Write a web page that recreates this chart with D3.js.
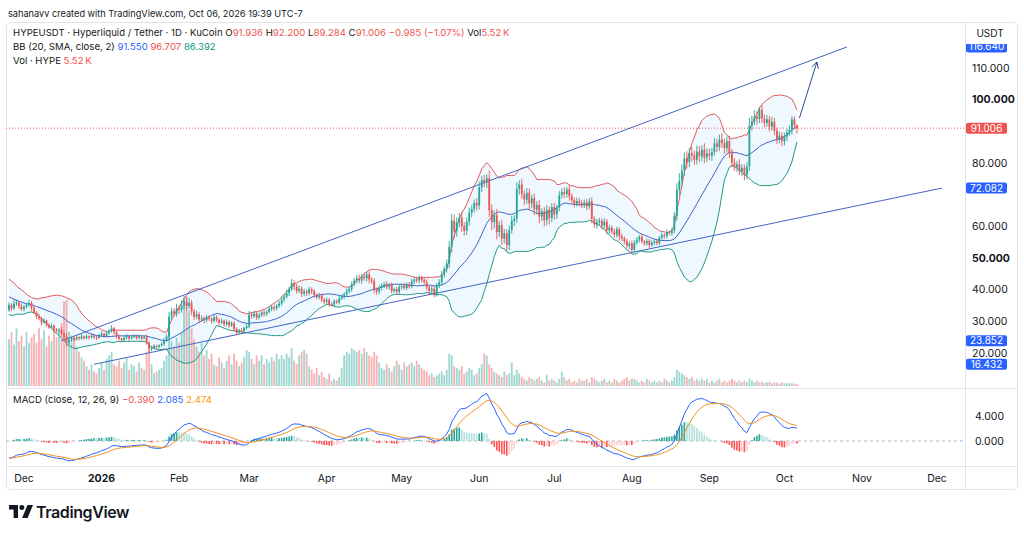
<!DOCTYPE html>
<html>
<head>
<meta charset="utf-8">
<script src="https://cdn.jsdelivr.net/npm/d3@7"></script>
<style>
  body { margin: 0; background: #fff; }
  svg text { font-family: "Inter", "Roboto", "Noto Sans", sans-serif; }
</style>
</head>
<body>
<svg id="chart" width="1024" height="534"></svg>
<script>
// ---- data (daily HYPE/USDT, first candle 2025-11-25) ----
var firstDay = "2025-11-25";

// closes before the visible window, only used to seed BB and MACD
var warmupCloses = [51.5, 50.2, 51.8, 50.6, 49.3, 50.1, 48.7, 49.5, 48.2, 47.1,
  48.0, 46.8, 47.6, 46.2, 45.5, 46.4, 45.1, 44.3, 45.2, 44.0,
  44.8, 43.6, 44.4, 43.2, 43.9, 43.1, 42.4, 41.6, 42.2, 40.9,
  40.3, 39.5, 40.1, 38.8, 38.2, 37.4, 37.9, 36.6, 35.9, 35.2,
  35.8, 34.5, 33.9, 34.4, 33.6];

var closes = [35.2, 34.1, 35.6, 36.0, 34.8, 33.9, 34.5, 35.3, 35.8, 34.2,
  32.8, 31.5, 30.9, 29.6, 30.2, 28.9, 28.1, 28.6, 27.4, 26.9,
  27.3, 26.2, 25.1, 23.4, 24.0, 24.8, 24.3, 25.0, 24.6, 25.2,
  24.7, 25.3, 24.9, 25.5, 25.0, 24.8, 25.6, 26.1, 25.4, 26.3,
  26.9, 27.8, 26.6, 25.2, 24.5, 24.1, 24.8, 25.3, 24.6, 25.1,
  25.4, 24.8, 25.2, 24.6, 25.0, 23.3, 21.2, 21.6, 22.3, 21.9,
  22.4, 22.8, 24.0, 25.2, 31.5, 33.2, 32.4, 34.1, 33.6, 35.0,
  36.2, 34.8, 35.9, 33.1, 31.4, 32.2, 30.6, 31.0, 30.3, 31.2,
  30.8, 30.1, 31.3, 30.5, 29.6, 30.2, 29.1, 29.8, 28.7, 29.4,
  27.6, 26.5, 27.2, 26.8, 27.9, 28.4, 32.1, 31.6, 32.5, 31.2,
  31.9, 32.8, 32.3, 33.0, 33.9, 34.5, 34.1, 34.8, 35.6, 36.9,
  37.8, 38.9, 40.2, 42.1, 41.0, 39.6, 40.3, 38.7, 39.4, 38.9,
  40.1, 39.5, 38.4, 37.6, 38.1, 36.9, 36.2, 36.8, 35.5, 35.3,
  36.4, 36.0, 37.2, 37.8, 38.6, 39.5, 40.2, 41.6, 42.8, 43.5,
  42.9, 44.1, 43.6, 44.8, 43.2, 42.7, 40.1, 39.4, 40.6, 41.3,
  41.8, 40.9, 41.5, 39.6, 40.2, 39.3, 40.8, 41.2, 40.5, 41.6,
  41.0, 42.6, 43.2, 42.9, 43.8, 43.1, 42.4, 40.8, 39.7, 40.3,
  38.6, 41.2, 42.3, 44.8, 46.5, 48.2, 53.5, 61.8, 58.4, 61.2,
  62.7, 60.1, 58.6, 61.4, 64.3, 65.5, 67.4, 66.6, 72.3, 74.6,
  73.8, 75.2, 65.1, 61.3, 63.5, 58.2, 60.4, 56.1, 57.8, 54.0,
  58.9, 61.7, 62.4, 71.8, 73.2, 70.1, 68.4, 70.6, 67.2, 68.9,
  65.3, 66.8, 63.1, 64.7, 61.9, 65.2, 62.6, 66.1, 63.8, 65.9,
  69.8, 70.9, 70.2, 71.6, 69.5, 68.3, 67.1, 68.0, 67.4, 66.8,
  67.5, 66.3, 67.9, 62.4, 60.6, 61.3, 61.8, 60.2, 61.5, 58.7,
  59.6, 58.3, 57.4, 59.1, 56.8, 56.1, 55.3, 53.9, 54.6, 52.6,
  54.9, 55.8, 56.7, 55.2, 54.6, 55.4, 54.1, 54.8, 55.3, 54.7,
  56.4, 57.2, 56.9, 58.1, 57.8, 58.7, 63.2, 71.5, 74.3, 77.6,
  81.5, 80.2, 83.1, 82.4, 81.0, 83.6, 82.1, 84.2, 81.7, 83.0,
  82.3, 83.5, 86.2, 85.1, 87.4, 86.3, 84.7, 86.9, 83.2, 80.1,
  78.8, 79.6, 77.4, 78.5, 76.2, 78.9, 91.8, 93.2, 94.6, 93.9,
  96.8, 94.1, 92.7, 93.8, 91.5, 93.0, 90.2, 87.4, 88.6, 86.9,
  88.3, 89.7, 90.5, 93.8, 91.991, 91.006];

// wick length above the body / below the body
var wickHi = [0.8,0.5,1.1,0.6,0.4,0.9,0.7,0.5,1.0,0.6,
  0.7,0.4,0.9,0.5,0.8,0.3,0.6,0.7,0.4,0.5,
  0.6,0.9,0.5,1.2,0.4,0.7,0.5,0.6,0.3,0.8,
  0.4,0.6,0.3,0.5,0.4,0.6,0.5,0.8,0.3,0.6,
  0.7,1.0,0.5,0.4,0.6,0.3,0.5,0.7,0.4,0.5,
  0.5,0.4,0.6,0.3,0.5,0.8,0.4,0.6,0.5,0.3,
  0.4,0.6,0.8,0.7,1.5,1.1,0.9,1.4,1.0,1.6,
  1.8,1.2,1.5,0.9,0.8,1.1,0.7,0.9,0.6,0.8,
  0.7,0.5,0.9,0.6,0.5,0.7,0.4,0.8,0.5,0.6,
  0.6,0.5,0.4,0.7,0.5,0.8,1.2,0.9,0.7,0.6,
  0.8,0.6,0.7,0.5,0.9,0.6,0.8,0.7,0.9,1.0,
  0.9,1.1,0.8,1.3,0.9,0.7,1.0,0.8,0.9,0.7,
  0.8,0.6,0.7,0.5,0.9,0.6,0.5,0.7,0.6,0.5,
  0.6,0.5,0.8,0.7,0.6,0.9,0.7,1.0,0.9,1.1,
  1.2,0.9,1.3,0.8,1.0,0.7,0.9,0.6,0.8,0.7,
  0.7,0.9,0.6,0.8,0.5,0.7,0.8,0.6,0.9,0.7,
  0.8,0.9,0.7,1.0,0.8,0.6,0.7,0.9,0.6,0.8,
  0.7,0.9,1.0,1.1,0.9,1.3,1.8,2.2,1.9,1.6,
  1.5,1.8,1.2,1.4,1.6,1.3,1.1,1.5,1.9,1.4,
  1.6,1.2,2.4,1.8,1.5,2.0,1.3,1.7,1.4,1.2,
  1.3,1.6,1.1,2.1,1.4,1.8,1.2,1.5,1.3,1.1,
  1.4,1.2,1.6,1.0,1.3,1.5,1.1,1.2,1.4,1.0,
  1.3,1.1,1.4,0.9,1.2,1.0,0.8,1.1,0.9,1.0,
  0.9,1.1,1.0,1.3,0.8,1.0,0.9,0.7,1.1,0.8,
  0.9,0.7,1.0,0.8,0.6,0.9,0.7,0.8,0.6,0.9,
  0.7,0.8,0.6,0.9,0.5,0.7,0.6,0.8,0.5,0.7,
  0.6,0.8,0.7,0.9,0.6,0.8,1.4,2.1,2.5,2.0,
  1.8,2.2,1.6,2.0,1.5,1.9,1.7,1.4,2.0,1.6,
  1.5,1.3,1.8,1.4,1.6,1.9,1.3,1.5,1.7,1.2,
  1.4,1.1,1.6,1.2,1.0,1.3,2.4,1.8,2.1,1.6,
  1.0,1.5,1.2,1.4,1.1,1.6,1.2,1.0,1.3,1.1,
  1.2,1.0,1.4,1.0,0.9,0.21];

var wickLo = [0.6,0.9,0.5,0.7,1.0,0.6,0.8,0.4,0.7,0.9,
  0.5,0.8,0.6,0.9,0.4,0.7,0.5,0.6,0.8,0.5,
  0.7,0.6,1.0,1.3,0.5,0.6,0.7,0.4,0.6,0.5,
  0.5,0.4,0.6,0.3,0.5,0.7,0.4,0.5,0.6,0.4,
  0.6,0.5,0.8,0.7,0.5,0.6,0.4,0.5,0.7,0.4,
  0.4,0.6,0.5,0.7,0.4,0.6,0.9,0.7,0.5,0.6,
  0.5,0.4,0.6,0.5,0.9,1.2,0.8,1.0,1.3,0.9,
  1.1,1.4,0.9,1.2,1.0,0.8,1.1,0.7,0.9,0.6,
  0.6,0.8,0.5,0.7,0.9,0.5,0.8,0.6,0.7,0.5,
  0.7,0.9,0.5,0.6,0.4,0.5,0.6,0.8,0.5,0.7,
  0.6,0.5,0.8,0.6,0.5,0.7,0.9,0.6,0.5,0.7,
  0.8,0.6,0.9,0.7,1.1,0.9,0.7,1.0,0.8,0.9,
  0.7,0.9,0.8,0.6,0.7,0.9,0.8,0.6,0.9,0.7,
  0.8,0.6,0.7,0.5,0.8,0.6,0.7,0.9,0.6,0.8,
  0.9,1.0,0.8,1.1,1.2,0.9,1.3,1.0,0.8,0.9,
  0.8,0.7,0.9,0.8,0.6,0.9,0.7,0.8,0.6,0.7,
  0.7,0.6,0.8,0.7,0.9,0.8,0.7,1.0,1.2,0.9,
  1.0,0.8,0.7,0.9,1.0,1.1,1.4,1.8,2.1,1.7,
  1.6,1.9,1.5,1.3,1.2,1.4,1.1,1.6,1.3,1.5,
  1.4,1.7,2.2,2.5,1.9,2.3,1.6,2.0,1.5,1.8,
  1.5,1.2,1.6,1.3,1.8,1.4,1.7,1.3,1.9,1.4,
  1.8,1.5,2.2,1.4,1.9,1.6,2.0,1.3,1.7,1.5,
  1.2,1.0,1.3,1.1,1.4,1.0,1.2,0.9,1.1,1.0,
  1.0,1.2,0.9,1.4,1.1,1.3,1.0,1.2,0.9,1.3,
  1.0,0.8,1.1,0.9,1.2,0.8,1.0,0.9,1.1,1.0,
  0.8,0.7,0.9,0.6,0.8,0.7,0.9,0.6,0.8,0.7,
  0.7,0.6,0.8,0.7,0.6,0.8,0.9,1.5,1.8,1.6,
  1.7,2.0,1.5,1.9,1.6,1.4,1.8,1.5,1.7,1.3,
  1.4,1.6,1.2,1.7,1.3,1.5,1.8,1.4,1.6,1.5,
  1.3,1.6,1.2,1.5,1.7,1.4,1.5,1.6,1.2,1.8,
  1.3,1.5,1.4,1.2,1.6,1.3,1.5,1.4,1.2,1.6,
  1.3,1.4,1.1,1.5,1.2,1.72];

// volume in thousands of HYPE
var volumes = [130,150,115,160,125,140,110,150,120,135,
  145,120,160,130,155,110,140,125,165,135,
  150,175,235,240,150,120,135,110,95,80,
  70,55,45,60,40,35,50,65,45,75,
  85,95,60,55,70,50,65,80,45,60,
  55,40,65,50,45,95,100,60,35,40,
  45,50,70,85,140,125,110,135,120,150,
  240,250,210,160,130,110,95,120,85,100,
  75,90,60,55,80,65,50,70,85,60,
  90,70,55,65,80,100,95,75,60,85,
  70,85,60,75,65,80,70,90,75,85,
  75,90,80,105,70,60,85,95,100,90,
  55,45,35,50,30,40,25,20,35,15,
  20,15,25,50,85,95,90,105,100,95,
  100,90,105,95,85,80,95,85,65,50,
  45,60,50,40,55,70,60,45,65,55,
  60,65,55,70,60,50,45,40,30,35,
  25,30,35,40,30,45,90,85,55,50,
  45,55,35,40,50,45,30,35,50,60,
  90,85,60,50,40,35,30,25,40,30,
  35,65,30,45,35,25,20,15,25,20,
  15,20,25,15,10,30,15,20,15,10,
  20,40,25,15,20,10,15,10,20,15,
  15,20,10,25,20,15,10,15,20,10,
  15,10,20,15,10,15,20,25,15,20,
  20,15,10,15,10,20,15,10,15,10,
  15,10,20,15,10,15,25,45,40,35,
  30,25,20,25,15,20,15,20,15,20,
  10,15,10,15,20,10,15,10,15,20,
  15,10,15,10,15,10,20,15,10,15,
  10,12,8,10,12,8,10,9,7,10,
  8,7,9,8,6,5.52];

var monthTicks = ["2025-12-01","2026-01-01","2026-02-01","2026-03-01","2026-04-01","2026-05-01",
  "2026-06-01","2026-07-01","2026-08-01","2026-09-01","2026-10-01","2026-11-01","2026-12-01"];
var monthNames = ["Dec","2026","Feb","Mar","Apr","May","Jun","Jul","Aug","Sep","Oct","Nov","Dec"];
var priceTicks = [110, 100, 90, 80, 70, 60, 50, 40, 30, 20];
var macdTicks = [4, 0];

// drawings: [date, price]
var upperChannel = [["2025-12-16", 23.852], ["2026-10-26", 116.640]];
var lowerChannel = [["2025-12-29", 16.432], ["2026-12-03", 72.082]];
var arrowPath = [["2026-10-07", 94.2], ["2026-10-14", 111.9]];
var lastPrice = 91.006;
var tagValues = [116.640, 72.082, 23.852, 16.432];

// ---- setup ----
var svg = d3.select("#chart");
var UP = "#26a69a", DOWN = "#ef5350";
var parse = d3.utcParse("%Y-%m-%d");
var DAY = 864e5;
var t0 = parse(firstDay).getTime();

var candles = closes.map(function(c, i) {
  var o = i == 0 ? warmupCloses[warmupCloses.length - 1] : closes[i - 1];
  return {
    date: new Date(t0 + i * DAY),
    o: o, c: c,
    h: Math.max(o, c) + wickHi[i],
    l: Math.min(o, c) - wickLo[i],
    v: volumes[i]
  };
});

// indicators on warmup + visible closes
var all = warmupCloses.concat(closes);
var nw = warmupCloses.length;
function ema(arr, n) {
  var k = 2 / (n + 1), out = [], prev = arr[0];
  arr.forEach(function(v, i) { prev = i == 0 ? v : v * k + prev * (1 - k); out.push(prev); });
  return out;
}
var e12 = ema(all, 12), e26 = ema(all, 26);
var macd = all.map(function(v, i) { return e12[i] - e26[i]; });
var sig = ema(macd, 9);
candles.forEach(function(d, i) {
  var j = i + nw;
  var win = all.slice(j - 19, j + 1);
  var m = d3.mean(win);
  var sd = Math.sqrt(d3.mean(win, function(v) { return (v - m) * (v - m); }));
  d.basis = m; d.upper = m + 2 * sd; d.lower = m - 2 * sd;
  d.macd = macd[j]; d.sig = sig[j]; d.hist = macd[j] - sig[j];
  d.histPrev = macd[j - 1] - sig[j - 1];
});

var x = d3.scaleUtc().domain([parse("2025-12-01"), parse("2026-12-01")]).range([24, 937]);
var y = d3.scaleLinear().domain([20, 110]).range([353, 68]);
var yv = d3.scaleLinear().domain([0, 250]).range([386, 296]);
var ym = d3.scaleLinear().domain([0, 4]).range([441, 416]);

var defs = svg.append("defs");
defs.append("clipPath").attr("id", "clip-price").append("rect")
  .attr("x", 6).attr("y", 23).attr("width", 959).attr("height", 364);
defs.append("clipPath").attr("id", "clip-macd").append("rect")
  .attr("x", 6).attr("y", 389).attr("width", 959).attr("height", 77);
defs.append("clipPath").attr("id", "clip-axis").append("rect")
  .attr("x", 965).attr("y", 44).attr("width", 52).attr("height", 343);

// frame
svg.append("rect").attr("x", 6.5).attr("y", 22.5).attr("width", 1011).attr("height", 467)
  .attr("rx", 4).style("fill", "none").style("stroke", "#e0e3eb");
[388.5, 466.5].forEach(function(yy) {
  svg.append("line").attr("x1", 6).attr("x2", 1017).attr("y1", yy).attr("y2", yy).style("stroke", "#e0e3eb");
});
svg.append("line").attr("x1", 965.5).attr("x2", 965.5).attr("y1", 22).attr("y2", 490).style("stroke", "#e0e3eb");

// ---- price pane ----
var pane = svg.append("g").attr("clip-path", "url(#clip-price)");

pane.append("path").datum(candles)
  .attr("d", d3.area().x(function(d) { return x(d.date); })
    .y0(function(d) { return y(d.lower); }).y1(function(d) { return y(d.upper); }))
  .style("fill", "rgba(33,150,243,0.07)");

pane.selectAll(".vol").data(candles).enter().append("rect")
  .attr("x", function(d) { return x(d.date) - 0.9; })
  .attr("width", 1.8)
  .attr("y", function(d) { return yv(d.v); })
  .attr("height", function(d) { return yv(0) - yv(d.v); })
  .style("fill", function(d) { return d.c >= d.o ? "rgba(38,166,154,0.45)" : "rgba(239,83,80,0.45)"; });

var bandLine = function(key) {
  return d3.line().x(function(d) { return x(d.date); }).y(function(d) { return y(d[key]); });
};
pane.append("path").datum(candles).attr("d", bandLine("upper")).style("fill", "none").style("stroke", "#e0585c").style("stroke-width", 1);
pane.append("path").datum(candles).attr("d", bandLine("basis")).style("fill", "none").style("stroke", "#3c64c8").style("stroke-width", 1);
pane.append("path").datum(candles).attr("d", bandLine("lower")).style("fill", "none").style("stroke", "#1f9a7f").style("stroke-width", 1);

pane.append("line").attr("x1", 6).attr("x2", 965)
  .attr("y1", y(lastPrice)).attr("y2", y(lastPrice))
  .style("stroke", "#ef5350").style("stroke-dasharray", "1,2").style("stroke-width", 1);

[upperChannel, lowerChannel].forEach(function(ln) {
  pane.append("line")
    .attr("x1", x(parse(ln[0][0]))).attr("y1", y(ln[0][1]))
    .attr("x2", x(parse(ln[1][0]))).attr("y2", y(ln[1][1]))
    .style("stroke", "#4466c4").style("stroke-width", 1);
});

var cg = pane.selectAll(".candle").data(candles).enter().append("g");
cg.append("line")
  .attr("x1", function(d) { return x(d.date); }).attr("x2", function(d) { return x(d.date); })
  .attr("y1", function(d) { return y(d.h); }).attr("y2", function(d) { return y(d.l); })
  .style("stroke", function(d) { return d.c >= d.o ? UP : DOWN; }).style("stroke-width", 0.9);
cg.append("rect")
  .attr("x", function(d) { return x(d.date) - 0.9; })
  .attr("width", 1.8)
  .attr("y", function(d) { return y(Math.max(d.o, d.c)); })
  .attr("height", function(d) { return Math.max(0.8, Math.abs(y(d.o) - y(d.c))); })
  .style("fill", function(d) { return d.c >= d.o ? UP : DOWN; });

// arrow drawing
var ax1 = x(parse(arrowPath[0][0])), ay1 = y(arrowPath[0][1]);
var ax2 = x(parse(arrowPath[1][0])), ay2 = y(arrowPath[1][1]);
pane.append("line").attr("x1", ax1).attr("y1", ay1).attr("x2", ax2).attr("y2", ay2)
  .style("stroke", "#2c4a93").style("stroke-width", 1);
var ang = Math.atan2(ay2 - ay1, ax2 - ax1);
pane.append("path")
  .attr("d", "M" + (ax2 - 7 * Math.cos(ang - 0.5)) + "," + (ay2 - 7 * Math.sin(ang - 0.5)) +
    "L" + ax2 + "," + ay2 +
    "L" + (ax2 - 7 * Math.cos(ang + 0.5)) + "," + (ay2 - 7 * Math.sin(ang + 0.5)))
  .style("fill", "none").style("stroke", "#2c4a93").style("stroke-width", 1);

// ---- price axis ----
svg.append("text").attr("x", 990).attr("y", 37).attr("text-anchor", "middle")
  .style("font-size", "10px").style("fill", "#131722").text("USDT");
var fmt = d3.format(".3f");
var tags = tagValues.map(function(v) { return { v: v, c: "#2962ff" }; });
tags.splice(1, 0, { v: lastPrice, c: "#ef5350" });

// tick labels hidden where a price tag sits on top of them
var freeTicks = priceTicks.filter(function(p) {
  return tags.every(function(t) { return Math.abs(y(p) - y(t.v)) > 10.5; });
});
svg.selectAll(".ptick").data(freeTicks).enter().append("text")
  .attr("x", 972).attr("y", function(d) { return y(d) + 3.5; })
  .style("font-size", "10.5px")
  .style("font-weight", function(d) { return d % 50 == 0 ? "bold" : "normal"; })
  .style("fill", "#131722")
  .text(function(d) { return fmt(d); });

var tagG = svg.append("g").attr("clip-path", "url(#clip-axis)");
tags.forEach(function(t) {
  tagG.append("rect").attr("x", 966).attr("y", y(t.v) - 5.5).attr("width", 41).attr("height", 11)
    .attr("rx", 2).style("fill", t.c);
  tagG.append("text").attr("x", 986.5).attr("y", y(t.v) + 3.5).attr("text-anchor", "middle")
    .style("font-size", "10px").style("fill", "#fff").text(fmt(t.v));
});

// ---- MACD pane ----
var mp = svg.append("g").attr("clip-path", "url(#clip-macd)");
mp.append("line").attr("x1", 6).attr("x2", 965).attr("y1", ym(0)).attr("y2", ym(0))
  .style("stroke", "#b2b5be").style("stroke-dasharray", "3,3");
mp.selectAll(".hist").data(candles).enter().append("rect")
  .attr("x", function(d) { return x(d.date) - 0.8; })
  .attr("width", 1.6)
  .attr("y", function(d) { return ym(Math.max(0, d.hist)); })
  .attr("height", function(d) { return Math.abs(ym(d.hist) - ym(0)); })
  .style("fill", function(d) {
    if (d.hist >= 0) return d.hist >= d.histPrev ? "#26a69a" : "#b2dfdb";
    return d.hist < d.histPrev ? "#ff5252" : "#ffcdd2";
  });
mp.append("path").datum(candles)
  .attr("d", d3.line().x(function(d) { return x(d.date); }).y(function(d) { return ym(d.macd); }))
  .style("fill", "none").style("stroke", "#2962ff").style("stroke-width", 1);
mp.append("path").datum(candles)
  .attr("d", d3.line().x(function(d) { return x(d.date); }).y(function(d) { return ym(d.sig); }))
  .style("fill", "none").style("stroke", "#f0901e").style("stroke-width", 1);

svg.selectAll(".mtick").data(macdTicks).enter().append("text")
  .attr("x", 975).attr("y", function(d) { return ym(d) + 3.5; })
  .style("font-size", "10.5px").style("fill", "#131722")
  .text(function(d) { return fmt(d); });

// ---- time axis ----
svg.selectAll(".xtick").data(monthTicks).enter().append("text")
  .attr("x", function(d) { return x(parse(d)); }).attr("y", 482)
  .attr("text-anchor", "middle")
  .style("font-size", "10.5px")
  .style("font-weight", function(d, i) { return monthNames[i] == "2026" ? "bold" : "normal"; })
  .style("fill", "#131722")
  .text(function(d, i) { return monthNames[i]; });

// ---- legends ----
function legend(yy, parts) {
  var t = svg.append("text").attr("x", 13).attr("y", yy).style("font-size", "9.6px");
  parts.forEach(function(p) { t.append("tspan").style("fill", p[1]).text(p[0]); });
}
svg.append("text").attr("x", 8).attr("y", 17).style("font-size", "9.2px").style("fill", "#131722")
  .text("sahanavv created with TradingView.com, Oct 06, 2026 19:39 UTC-7");
var K = "#131722", R = "#ef5350";
legend(36, [["HYPEUSDT \u00b7 Hyperliquid / Tether \u00b7 1D \u00b7 KuCoin  O", K], ["91.936", R], ["  H", K], ["92.200", R],
  ["  L", K], ["89.284", R], ["  C", K], ["91.006", R], ["  \u22120.985 (\u22121.07%)", R], ["  Vol", K], ["5.52\u2009K", R]]);
legend(50, [["BB (20, SMA, close, 2)  ", K], ["91.550", "#2962ff"], ["  96.707", R], ["  86.392", "#089981"]]);
legend(64, [["Vol \u00b7 HYPE  ", K], ["5.52\u2009K", R]]);
legend(403, [["MACD (close, 12, 26, 9)  ", K], ["\u22120.390", R], ["  2.085", "#2962ff"], ["  2.474", "#ff9800"]]);

// ---- logo ----
var logo = svg.append("g").attr("transform", "translate(9,505)");
logo.append("path").attr("d", "M0 0H9V13H4.6V4.4H0Z").style("fill", "#131722");
logo.append("circle").attr("cx", 12.8).attr("cy", 2.5).attr("r", 2.5).style("fill", "#131722");
logo.append("path").attr("d", "M18.5 0H24L18.6 13H13.1Z").style("fill", "#131722");
svg.append("text").attr("x", 36).attr("y", 518).style("font-size", "16px").style("font-weight", "600")
  .style("fill", "#131722").style("letter-spacing", "-0.4px").text("TradingView");
</script>
</body>
</html>
